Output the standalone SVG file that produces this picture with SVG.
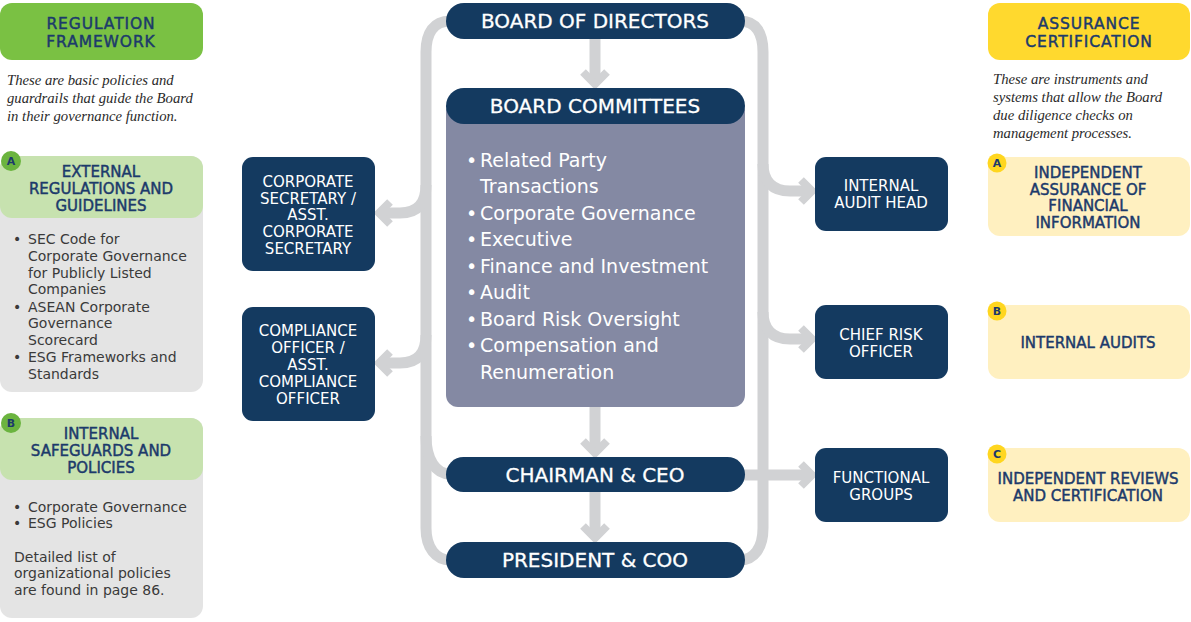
<svg xmlns="http://www.w3.org/2000/svg" width="1191" height="622" viewBox="0 0 1191 622">
<style>
.navy{fill:#143A60}
.hd{font-family:"DejaVu Sans",sans-serif;fill:#1C3A6B;stroke:#1C3A6B;stroke-width:0.45;text-anchor:middle}
.big{font-size:15.5px;letter-spacing:0.9px}
.wt{font-family:"DejaVu Sans",sans-serif;fill:#fff;text-anchor:middle}
.pill{font-family:"DejaVu Sans",sans-serif;fill:#fff;font-size:20px;text-anchor:middle;stroke:#fff;stroke-width:0.3}
.it{font-family:"Liberation Serif",serif;font-style:italic;font-size:14.7px;fill:#2a2a2a}
.bl{font-family:"DejaVu Sans",sans-serif;font-size:14px;fill:#3a3a3a}
.cm{font-family:"DejaVu Sans",sans-serif;font-size:19px;fill:#fff}
.conn{fill:none;stroke:#D1D2D4;stroke-width:11}
.head{fill:none;stroke:#D1D2D4;stroke-width:8;stroke-linecap:butt;stroke-linejoin:miter}
.badge{font-family:"DejaVu Sans",sans-serif;font-weight:bold;font-size:11px;fill:#1C3A6B;text-anchor:middle}
</style>

<g id="connectors">
  <path class="conn" d="M450 21 C434 21 426 33 426 52 L426 528 C426 548 436 560 450 560"/>
  <path class="conn" d="M426 436 C426 460 436 474 450 474"/>
  <path class="conn" d="M740 21 C756 21 763 33 763 52 L763 528 C763 548 754 560 740 560"/>
  <path class="conn" d="M740 475 L808 475"/>
  <path class="head" d="M801 464 L812 475 L801 486"/>
  <path class="conn" d="M763 164 C763 181 772 191 790 191 L808 191"/>
  <path class="head" d="M801 180 L812 191 L801 202"/>
  <path class="conn" d="M763 312 C763 329 772 339 790 339 L808 339"/>
  <path class="head" d="M801 328 L812 339 L801 350"/>
  <path class="conn" d="M426 185 C426 203 418 213 400 213 L383 213"/>
  <path class="head" d="M390 202 L379 213 L390 224"/>
  <path class="conn" d="M426 335 C426 353 418 363 400 363 L383 363"/>
  <path class="head" d="M390 352 L379 363 L390 374"/>
  <path class="conn" d="M595 39 L595 80"/>
  <path class="head" d="M583 72 L595 84 L607 72"/>
  <path class="conn" d="M595 407 L595 448"/>
  <path class="head" d="M583 441 L595 453 L607 441"/>
  <path class="conn" d="M595 492 L595 533"/>
  <path class="head" d="M583 526 L595 538 L607 526"/>
</g>

<g id="regulation-framework">
  <rect x="0" y="3" width="203" height="57" rx="12" fill="#7AC143"/>
  <text class="hd big" x="101" y="29">REGULATION</text>
  <text class="hd big" x="101" y="47">FRAMEWORK</text>
  <text class="it" x="7" y="85">These are basic policies and</text>
  <text class="it" x="7" y="103">guardrails that guide the Board</text>
  <text class="it" x="7" y="121">in their governance function.</text>
</g>

<g id="external-regulations">
  <rect x="0" y="156" width="203" height="236" rx="12" fill="#E4E4E4"/>
  <rect x="0" y="156" width="203" height="62" rx="12" fill="#C7E2AF"/>
  <circle cx="11" cy="161" r="10" fill="#6BB43F"/>
  <text class="badge" x="11" y="165">A</text>
  <text class="hd" font-size="15" x="101" y="177">EXTERNAL</text>
  <text class="hd" font-size="15" x="101" y="194">REGULATIONS AND</text>
  <text class="hd" font-size="15" x="101" y="211">GUIDELINES</text>
  <text class="bl" x="13" y="244">•</text><text class="bl" x="28" y="244">SEC Code for</text>
  <text class="bl" x="28" y="261">Corporate Governance</text>
  <text class="bl" x="28" y="278">for Publicly Listed</text>
  <text class="bl" x="28" y="294">Companies</text>
  <text class="bl" x="13" y="312">•</text><text class="bl" x="28" y="312">ASEAN Corporate</text>
  <text class="bl" x="28" y="328">Governance</text>
  <text class="bl" x="28" y="345">Scorecard</text>
  <text class="bl" x="13" y="362">•</text><text class="bl" x="28" y="362">ESG Frameworks and</text>
  <text class="bl" x="28" y="379">Standards</text>
</g>

<g id="internal-safeguards">
  <rect x="0" y="418" width="203" height="200" rx="12" fill="#E4E4E4"/>
  <rect x="0" y="418" width="203" height="62" rx="12" fill="#C7E2AF"/>
  <circle cx="11" cy="423" r="10" fill="#6BB43F"/>
  <text class="badge" x="11" y="427">B</text>
  <text class="hd" font-size="15" x="101" y="439">INTERNAL</text>
  <text class="hd" font-size="15" x="101" y="456">SAFEGUARDS AND</text>
  <text class="hd" font-size="15" x="101" y="473">POLICIES</text>
  <text class="bl" x="13" y="512">•</text><text class="bl" x="28" y="512">Corporate Governance</text>
  <text class="bl" x="13" y="528">•</text><text class="bl" x="28" y="528">ESG Policies</text>
  <text class="bl" x="14" y="562">Detailed list of</text>
  <text class="bl" x="14" y="578">organizational policies</text>
  <text class="bl" x="14" y="595">are found in page 86.</text>
</g>

<g id="corporate-secretary">
  <rect class="navy" x="242" y="157" width="133" height="114" rx="11"/>
  <text class="wt" font-size="15" x="308" y="187">CORPORATE</text>
  <text class="wt" font-size="15" x="308" y="204">SECRETARY /</text>
  <text class="wt" font-size="15" x="308" y="220">ASST.</text>
  <text class="wt" font-size="15" x="308" y="237">CORPORATE</text>
  <text class="wt" font-size="15" x="308" y="254">SECRETARY</text>
</g>

<g id="compliance-officer">
  <rect class="navy" x="242" y="307" width="133" height="114" rx="11"/>
  <text class="wt" font-size="15" x="308" y="336">COMPLIANCE</text>
  <text class="wt" font-size="15" x="308" y="353">OFFICER /</text>
  <text class="wt" font-size="15" x="308" y="370">ASST.</text>
  <text class="wt" font-size="15" x="308" y="387">COMPLIANCE</text>
  <text class="wt" font-size="15" x="308" y="404">OFFICER</text>
</g>

<g id="board-of-directors">
  <rect class="navy" x="446" y="3" width="299" height="36" rx="18"/>
  <text class="pill" x="595" y="28">BOARD OF DIRECTORS</text>
</g>

<g id="board-committees">
  <rect x="446" y="100" width="299" height="307" rx="12" fill="#8489A3"/>
  <rect class="navy" x="446" y="88" width="299" height="36" rx="18"/>
  <text class="pill" x="595" y="113">BOARD COMMITTEES</text>
  <text class="cm" x="466" y="167">•</text><text class="cm" x="480" y="167">Related Party</text>
  <text class="cm" x="480" y="193">Transactions</text>
  <text class="cm" x="466" y="220">•</text><text class="cm" x="480" y="220">Corporate Governance</text>
  <text class="cm" x="466" y="246">•</text><text class="cm" x="480" y="246">Executive</text>
  <text class="cm" x="466" y="273">•</text><text class="cm" x="480" y="273">Finance and Investment</text>
  <text class="cm" x="466" y="299">•</text><text class="cm" x="480" y="299">Audit</text>
  <text class="cm" x="466" y="326">•</text><text class="cm" x="480" y="326">Board Risk Oversight</text>
  <text class="cm" x="466" y="352">•</text><text class="cm" x="480" y="352">Compensation and</text>
  <text class="cm" x="480" y="379">Renumeration</text>
</g>

<g id="chairman-ceo">
  <rect class="navy" x="446" y="457" width="299" height="35" rx="17.5"/>
  <text class="pill" x="595" y="482">CHAIRMAN &amp; CEO</text>
</g>

<g id="president-coo">
  <rect class="navy" x="446" y="542" width="299" height="36" rx="18"/>
  <text class="pill" x="595" y="567">PRESIDENT &amp; COO</text>
</g>

<g id="internal-audit-head">
  <rect class="navy" x="815" y="157" width="133" height="74" rx="11"/>
  <text class="wt" font-size="15" x="881" y="191">INTERNAL</text>
  <text class="wt" font-size="15" x="881" y="208">AUDIT HEAD</text>
</g>

<g id="chief-risk-officer">
  <rect class="navy" x="815" y="305" width="133" height="74" rx="11"/>
  <text class="wt" font-size="15" x="881" y="340">CHIEF RISK</text>
  <text class="wt" font-size="15" x="881" y="357">OFFICER</text>
</g>

<g id="functional-groups">
  <rect class="navy" x="815" y="448" width="133" height="74" rx="11"/>
  <text class="wt" font-size="15" x="881" y="483">FUNCTIONAL</text>
  <text class="wt" font-size="15" x="881" y="500">GROUPS</text>
</g>

<g id="assurance-certification">
  <rect x="988" y="3" width="202" height="57" rx="12" fill="#FFD92E"/>
  <text class="hd big" x="1089" y="29">ASSURANCE</text>
  <text class="hd big" x="1089" y="47">CERTIFICATION</text>
  <text class="it" x="993" y="84">These are instruments and</text>
  <text class="it" x="993" y="102">systems that allow the Board</text>
  <text class="it" x="993" y="120">due diligence checks on</text>
  <text class="it" x="993" y="138">management processes.</text>
</g>

<g id="independent-assurance">
  <rect x="988" y="157" width="202" height="79" rx="12" fill="#FFF0C0"/>
  <circle cx="997" cy="163" r="9.5" fill="#FFD61F"/>
  <text class="badge" x="997" y="167">A</text>
  <text class="hd" font-size="15" x="1088" y="178">INDEPENDENT</text>
  <text class="hd" font-size="15" x="1088" y="195">ASSURANCE OF</text>
  <text class="hd" font-size="15" x="1088" y="211">FINANCIAL</text>
  <text class="hd" font-size="15" x="1088" y="228">INFORMATION</text>
</g>

<g id="internal-audits">
  <rect x="988" y="305" width="202" height="74" rx="12" fill="#FFF0C0"/>
  <circle cx="997" cy="311" r="9.5" fill="#FFD61F"/>
  <text class="badge" x="997" y="315">B</text>
  <text class="hd" font-size="15" x="1088" y="348">INTERNAL AUDITS</text>
</g>

<g id="independent-reviews">
  <rect x="988" y="448" width="202" height="74" rx="12" fill="#FFF0C0"/>
  <circle cx="997" cy="454" r="9.5" fill="#FFD61F"/>
  <text class="badge" x="997" y="458">C</text>
  <text class="hd" font-size="15" x="1088" y="484">INDEPENDENT REVIEWS</text>
  <text class="hd" font-size="15" x="1088" y="501">AND CERTIFICATION</text>
</g>
</svg>
